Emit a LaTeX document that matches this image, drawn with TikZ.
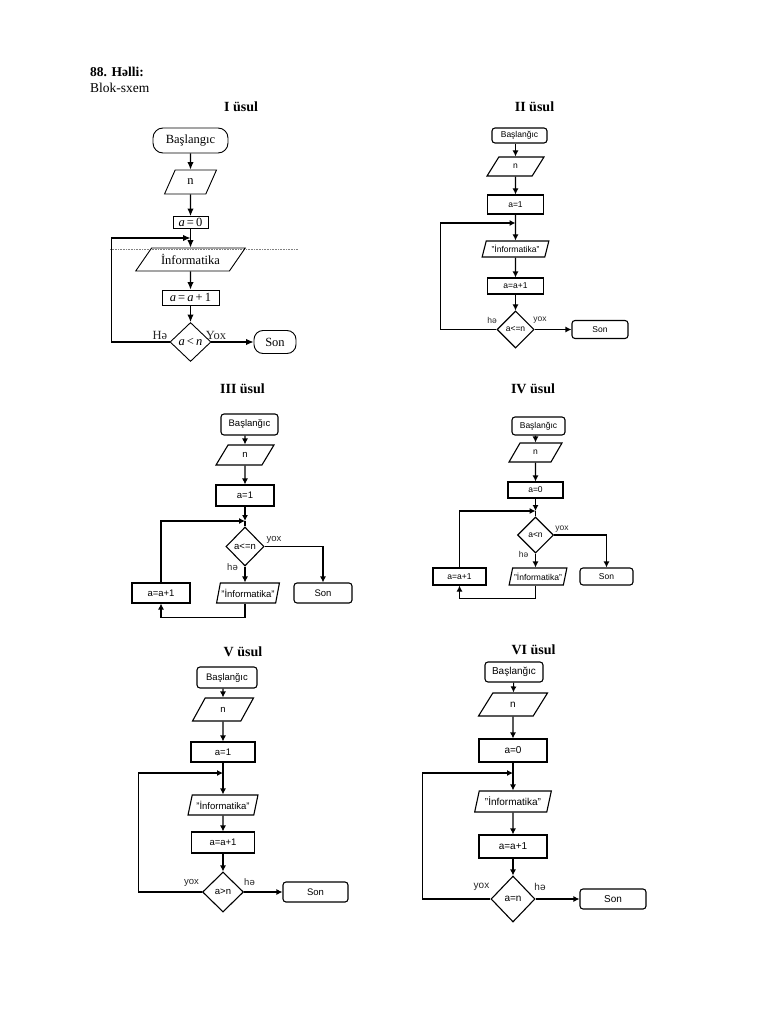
\documentclass[tikz,border=0pt]{standalone}
\usepackage{fontspec}
\setmainfont{Liberation Serif}
\setsansfont{Liberation Sans}
\usepackage{tikz}
\usetikzlibrary{arrows.meta,positioning,shapes.geometric}
\tikzset{
  wh/.style 2 args={minimum width=#1, minimum height=#2},
  heading/.style={anchor=base, inner sep=0pt, font=\fontsize{14}{16}\selectfont\bfseries},
  startbox/.style={draw, rounded corners=3pt, line width=1.1pt, inner sep=1pt},
  procbox/.style={draw, line width=1.1pt, inner sep=1pt},
  iobox/.style={draw, trapezium, trapezium left angle=70, trapezium right angle=110, trapezium stretches=true, line width=1.1pt, inner sep=1pt},
  decision/.style={draw, diamond, line width=1.1pt, inner sep=0pt},
  lbl/.style={inner sep=0pt, text=black!85},
  flowline/.style={line width=1.1pt},
  flowarrow/.style={-{Latex[length=6pt,width=6pt]}, line width=1.1pt},
  bigarrow/.style={-{Latex[length=7.5pt,width=6.5pt]}, line width=1.2pt}
}

\begin{document}
\begin{tikzpicture}[x=1pt, y=-1pt]
  \useasboundingbox (0,0) rectangle (768,1024);

  \node[anchor=base west, inner sep=0pt, font=\fontsize{13.5}{16}\selectfont\bfseries] (title) at (90,77) {88. Həlli:};
  \node[anchor=base west, inner sep=0pt, font=\fontsize{13.5}{16}\selectfont] (subtitle) at (90,93) {Blok-sxem};
  \node[heading] (head1) at (241,112) {I üsul};
  \node[heading] (head2) at (534.5,112) {II üsul};
  \node[heading] (head3) at (242.5,393) {III üsul};
  \node[heading] (head4) at (533,393) {IV üsul};
  \node[heading] (head5) at (243,656) {V üsul};
  \node[heading] (head6) at (533.5,654) {VI üsul};

  % I usul
  \begin{scope}[every node/.append style={font=\fontsize{12.5}{15}\selectfont}]
    \draw[gray, densely dotted, line width=0.6pt] (110,249) -- (298,249);
    \node[startbox, rounded corners=10pt, line width=0.9pt, wh={75}{25}] (start1) at (190.5,140.5) {Başlangıc};
    \node[iobox, line width=0.9pt, wh={52}{24}] (n1) at (190.5,182) {n};
    \node[procbox, line width=0.9pt, inner sep=0.5pt, wh={35}{12}] (init1) at (190.5,222.5) {\textit{a}\,=\,0};
    \coordinate (join1) at (190.5,238);
    \node[iobox, trapezium left angle=45, trapezium right angle=135, line width=0.9pt, wh={110}{23}] (print1) at (190.5,259.5) {İnformatika};
    \node[procbox, line width=0.9pt, wh={57}{15}] (inc1) at (190.5,297.5) {\textit{a}\,=\,\textit{a}\,+\,1};
    \node[decision, line width=0.9pt, wh={41}{39}] (test1) at (190.5,342) {\textit{a}\,<\,\textit{n}};
    \node[startbox, rounded corners=9pt, line width=0.9pt, wh={42}{23}] (end1) at (275,342) {Son};
    \node[lbl, anchor=base] (yes1) at (160,339) {Hə};
    \node[lbl, anchor=base] (no1) at (216,339) {Yox};
    \draw[bigarrow] (start1) -- (n1);
    \draw[bigarrow] (n1) -- (init1);
    \draw[bigarrow] (init1) -- (print1);
    \draw[bigarrow] (print1) -- (inc1);
    \draw[bigarrow] (inc1) -- (test1);
    \draw[bigarrow] (test1.west) -- ++(-58,0) |- (join1);
    \draw[bigarrow] (test1.east) -- (end1.west);
  \end{scope}

  % II usul
  \begin{scope}[every node/.append style={font=\sffamily\fontsize{8.5}{10}\selectfont}]
    \node[startbox, wh={55}{15}] (start2) at (519.5,135.5) {Başlanğıc};
    \node[iobox, wh={57}{19}] (n2) at (515.5,166.5) {n};
    \node[procbox, wh={56}{19}] (init2) at (515.5,204.5) {a=1};
    \coordinate (join2) at (515.5,223);
    \node[iobox, wh={67}{16}] (print2) at (515.5,249) {"İnformatika"};
    \node[procbox, wh={56}{16}] (inc2) at (515.5,286) {a=a+1};
    \node[decision, wh={37}{37}] (test2) at (515.5,329.5) {a<=n};
    \node[startbox, wh={56}{18}] (end2) at (600,329.5) {Son};
    \node[lbl] (yes2) at (492,320.5) {hə};
    \node[lbl] (no2) at (540,320.5) {yox};
    \draw[flowarrow] (start2.south -| n2.north) -- (n2);
    \draw[flowarrow] (n2) -- (init2);
    \draw[flowarrow] (init2) -- (print2);
    \draw[flowarrow] (print2) -- (inc2);
    \draw[flowarrow] (inc2) -- (test2);
    \draw[flowarrow] (test2.west) -- ++(-56,0) |- (join2);
    \draw[flowarrow] (test2.east) -- (end2.west);
  \end{scope}

  % III usul
  \begin{scope}[every node/.append style={font=\sffamily\fontsize{9.5}{11}\selectfont}]
    \node[startbox, wh={57}{21}] (start3) at (249.5,424.5) {Başlanğıc};
    \node[iobox, wh={58}{20}] (n3) at (245,455) {n};
    \node[procbox, wh={58}{21}] (init3) at (245,495.5) {a=1};
    \coordinate (join3) at (245,521);
    \node[decision, wh={38}{39}] (test3) at (245,546.5) {a<=n};
    \node[iobox, wh={60}{20}] (print3) at (248,593) {"İnformatika"};
    \node[startbox, wh={58}{20}] (end3) at (323,593) {Son};
    \node[procbox, wh={58}{20}] (inc3) at (161,593) {a=a+1};
    \node[lbl] (yes3) at (232.5,567) {hə};
    \node[lbl] (no3) at (274,540) {yox};
    \draw[flowarrow] (start3.south -| n3.north) -- (n3);
    \draw[flowarrow] (n3) -- (init3);
    \draw[flowarrow] (init3) -- (join3);
    \draw[flowline] (join3) -- (test3);
    \draw[flowarrow] (test3.south) -- (test3.south |- print3.north);
    \draw[flowarrow] (test3.east) -| (end3.north);
    \draw[flowarrow] (inc3.north) |- (join3);
    \draw[flowarrow] (print3.south -| test3.south) -- ++(0,14) -| (inc3.south);
  \end{scope}

  % IV usul
  \begin{scope}[every node/.append style={font=\sffamily\fontsize{8.5}{10}\selectfont}]
    \node[startbox, wh={53}{18}] (start4) at (538.5,426) {Başlanğıc};
    \node[iobox, wh={53}{19}] (n4) at (535.5,452.5) {n};
    \node[procbox, wh={55}{16}] (init4) at (535.5,490) {a=0};
    \coordinate (join4) at (535.5,511);
    \node[decision, wh={36}{36}] (test4) at (535.5,535) {a<n};
    \node[iobox, wh={58}{17}] (print4) at (538,576.5) {"İnformatika"};
    \node[startbox, wh={53}{17}] (end4) at (606.5,576.5) {Son};
    \node[procbox, wh={53}{17}] (inc4) at (459.5,576.5) {a=a+1};
    \node[lbl] (yes4) at (523.5,554.5) {hə};
    \node[lbl] (no4) at (562,529) {yox};
    \draw[flowarrow] (start4.south -| n4.north) -- (n4);
    \draw[flowarrow] (n4) -- (init4);
    \draw[flowarrow] (init4) -- (join4);
    \draw[flowline] (join4) -- (test4);
    \draw[flowarrow] (test4.south) -- (test4.south |- print4.north);
    \draw[flowarrow] (test4.east) -| (end4.north);
    \draw[flowarrow] (inc4.north) |- (join4);
    \draw[flowarrow] (print4.south -| test4.south) -- ++(0,13) -| (inc4.south);
  \end{scope}

  % V usul
  \begin{scope}[every node/.append style={font=\sffamily\fontsize{9.5}{11}\selectfont}]
    \node[startbox, wh={60}{21}] (start5) at (227,677.5) {Başlanğıc};
    \node[iobox, wh={61}{23}] (n5) at (223,709.5) {n};
    \node[procbox, wh={64}{20}] (init5) at (223,752) {a=1};
    \coordinate (join5) at (223,773);
    \node[iobox, wh={70}{20}] (print5) at (223,805) {"İnformatika"};
    \node[procbox, wh={63}{21}] (inc5) at (223,842.5) {a=a+1};
    \node[decision, wh={41}{40}] (test5) at (223,892) {a>n};
    \node[startbox, wh={65}{20}] (end5) at (315.5,892) {Son};
    \node[lbl] (no5) at (191.5,882.5) {yox};
    \node[lbl] (yes5) at (249.5,882.5) {hə};
    \draw[flowarrow] (start5.south -| n5.north) -- (n5);
    \draw[flowarrow] (n5) -- (init5);
    \draw[flowarrow] (init5) -- (print5);
    \draw[flowarrow] (print5) -- (inc5);
    \draw[flowarrow] (inc5) -- (test5);
    \draw[flowarrow] (test5.west) -- ++(-63.5,0) |- (join5);
    \draw[flowarrow] (test5.east) -- (end5.west);
  \end{scope}

  % VI usul
  \begin{scope}[every node/.append style={font=\sffamily\fontsize{10}{12}\selectfont}]
    \node[startbox, wh={58}{20}] (start6) at (514,672) {Başlanğıc};
    \node[iobox, wh={69}{23}] (n6) at (513,704.5) {n};
    \node[procbox, wh={68}{23}] (init6) at (513,750.5) {a=0};
    \coordinate (join6) at (513,773);
    \node[iobox, wh={77}{21}] (print6) at (513,801.5) {"İnformatika"};
    \node[procbox, wh={68}{23}] (inc6) at (513,846.5) {a=a+1};
    \node[decision, wh={44}{46}] (test6) at (513,899) {a=n};
    \node[startbox, wh={66}{20}] (end6) at (613,899) {Son};
    \node[lbl] (no6) at (481.5,886.5) {yox};
    \node[lbl] (yes6) at (540,886.5) {hə};
    \draw[flowarrow] (start6) -- (n6);
    \draw[flowarrow] (n6) -- (init6);
    \draw[flowarrow] (init6) -- (print6);
    \draw[flowarrow] (print6) -- (inc6);
    \draw[flowarrow] (inc6) -- (test6);
    \draw[flowarrow] (test6.west) -- ++(-68,0) |- (join6);
    \draw[flowarrow] (test6.east) -- (end6.west);
  \end{scope}
\end{tikzpicture}
\end{document}
